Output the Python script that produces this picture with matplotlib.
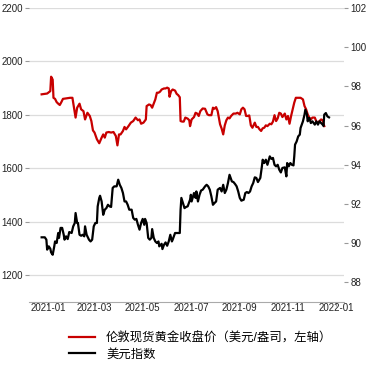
import pandas as pd
import matplotlib
matplotlib.use('Agg')
import matplotlib.pyplot as plt
import matplotlib.dates as mdates
from matplotlib.lines import Line2D

plt.rcParams['font.family'] = ['Liberation Sans', 'Noto Sans CJK SC', 'DejaVu Sans']
plt.rcParams['axes.unicode_minus'] = False

# 伦敦现货黄金收盘价 (美元/盎司)
gold_dates = ['2020-12-24', '2020-12-31', '2021-01-04', '2021-01-05', '2021-01-07', '2021-01-08',
              '2021-01-10', '2021-01-12', '2021-01-14', '2021-01-16', '2021-01-18', '2021-01-20',
              '2021-01-25', '2021-01-29', '2021-02-01', '2021-02-03', '2021-02-05', '2021-02-07',
              '2021-02-10', '2021-02-12', '2021-02-15', '2021-02-17', '2021-02-20', '2021-02-23',
              '2021-02-25', '2021-02-27', '2021-03-01', '2021-03-04', '2021-03-07', '2021-03-10',
              '2021-03-12', '2021-03-14', '2021-03-16', '2021-03-19', '2021-03-22', '2021-03-25',
              '2021-03-28', '2021-03-30', '2021-04-01', '2021-04-03', '2021-04-06', '2021-04-08',
              '2021-04-10', '2021-04-13', '2021-04-16', '2021-04-19', '2021-04-22', '2021-04-25',
              '2021-04-27', '2021-04-29', '2021-05-02', '2021-05-05', '2021-05-06', '2021-05-09',
              '2021-05-11', '2021-05-13', '2021-05-15', '2021-05-17', '2021-05-19', '2021-05-21',
              '2021-05-23', '2021-05-25', '2021-05-28', '2021-05-30', '2021-06-01', '2021-06-03',
              '2021-06-04', '2021-06-06', '2021-06-08', '2021-06-11', '2021-06-13', '2021-06-15',
              '2021-06-17', '2021-06-18', '2021-06-20', '2021-06-22', '2021-06-24', '2021-06-27',
              '2021-06-29', '2021-06-30', '2021-07-02', '2021-07-05', '2021-07-07', '2021-07-09',
              '2021-07-11', '2021-07-13', '2021-07-16', '2021-07-19', '2021-07-22', '2021-07-24',
              '2021-07-27', '2021-07-29', '2021-07-31', '2021-08-02', '2021-08-04', '2021-08-07',
              '2021-08-09', '2021-08-11', '2021-08-13', '2021-08-15', '2021-08-17', '2021-08-19',
              '2021-08-21', '2021-08-24', '2021-08-27', '2021-08-29', '2021-09-01', '2021-09-03',
              '2021-09-05', '2021-09-07', '2021-09-09', '2021-09-11', '2021-09-13', '2021-09-15',
              '2021-09-17', '2021-09-20', '2021-09-22', '2021-09-24', '2021-09-26', '2021-09-28',
              '2021-09-30', '2021-10-02', '2021-10-04', '2021-10-06', '2021-10-09', '2021-10-11',
              '2021-10-13', '2021-10-15', '2021-10-17', '2021-10-19', '2021-10-21', '2021-10-23',
              '2021-10-25', '2021-10-28', '2021-10-30', '2021-11-01', '2021-11-03', '2021-11-05',
              '2021-11-07', '2021-11-09', '2021-11-11', '2021-11-14', '2021-11-17', '2021-11-20',
              '2021-11-22', '2021-11-24', '2021-11-26', '2021-11-28', '2021-11-30', '2021-12-02',
              '2021-12-05', '2021-12-07', '2021-12-09', '2021-12-11', '2021-12-13', '2021-12-15',
              '2021-12-17']
gold_price = [1877, 1880, 1889, 1943, 1932, 1864, 1860, 1848, 1842, 1837, 1848, 1860,
              1862, 1864, 1864, 1827, 1790, 1827, 1842, 1821, 1814, 1783, 1808, 1796,
              1777, 1742, 1734, 1709, 1694, 1715, 1727, 1715, 1734, 1736, 1734, 1736,
              1721, 1686, 1727, 1727, 1740, 1755, 1746, 1758, 1771, 1777, 1790, 1780,
              1783, 1767, 1771, 1783, 1833, 1839, 1837, 1827, 1842, 1858, 1883, 1883,
              1887, 1895, 1899, 1899, 1902, 1899, 1868, 1889, 1895, 1891, 1879, 1874,
              1866, 1777, 1775, 1775, 1790, 1786, 1780, 1758, 1783, 1792, 1808, 1805,
              1796, 1814, 1824, 1823, 1802, 1799, 1799, 1827, 1823, 1829, 1814, 1765,
              1749, 1727, 1761, 1780, 1790, 1787, 1796, 1805, 1805, 1808, 1802, 1821,
              1827, 1821, 1796, 1796, 1798, 1761, 1752, 1771, 1755, 1755, 1746, 1740,
              1750, 1752, 1761, 1758, 1767, 1765, 1775, 1799, 1777, 1787, 1808, 1805,
              1792, 1805, 1783, 1796, 1767, 1796, 1821, 1846, 1864, 1864, 1864, 1858,
              1833, 1821, 1802, 1790, 1783, 1790, 1790, 1775, 1771, 1777, 1783, 1780,
              1758]

# 美元指数
usd_dates = ['2020-12-24', '2020-12-28', '2020-12-30', '2020-12-31', '2021-01-02', '2021-01-04',
             '2021-01-05', '2021-01-07', '2021-01-09', '2021-01-10', '2021-01-12', '2021-01-14',
             '2021-01-15', '2021-01-17', '2021-01-19', '2021-01-21', '2021-01-22', '2021-01-24',
             '2021-01-26', '2021-01-28', '2021-01-31', '2021-02-02', '2021-02-04', '2021-02-05',
             '2021-02-07', '2021-02-08', '2021-02-10', '2021-02-12', '2021-02-14', '2021-02-16',
             '2021-02-17', '2021-02-19', '2021-02-22', '2021-02-24', '2021-02-26', '2021-02-28',
             '2021-03-02', '2021-03-04', '2021-03-05', '2021-03-07', '2021-03-08', '2021-03-10',
             '2021-03-12', '2021-03-14', '2021-03-16', '2021-03-18', '2021-03-20', '2021-03-22',
             '2021-03-24', '2021-03-26', '2021-03-29', '2021-03-31', '2021-04-02', '2021-04-04',
             '2021-04-06', '2021-04-08', '2021-04-10', '2021-04-12', '2021-04-14', '2021-04-17',
             '2021-04-19', '2021-04-21', '2021-04-23', '2021-04-25', '2021-04-27', '2021-04-29',
             '2021-05-01', '2021-05-03', '2021-05-04', '2021-05-06', '2021-05-08', '2021-05-10',
             '2021-05-12', '2021-05-13', '2021-05-15', '2021-05-17', '2021-05-19', '2021-05-21',
             '2021-05-22', '2021-05-25', '2021-05-26', '2021-05-28', '2021-05-30', '2021-06-01',
             '2021-06-03', '2021-06-05', '2021-06-07', '2021-06-08', '2021-06-11', '2021-06-13',
             '2021-06-15', '2021-06-17', '2021-06-18', '2021-06-19', '2021-06-21', '2021-06-23',
             '2021-06-25', '2021-06-27', '2021-06-30', '2021-07-01', '2021-07-02', '2021-07-05',
             '2021-07-07', '2021-07-08', '2021-07-10', '2021-07-12', '2021-07-14', '2021-07-16',
             '2021-07-19', '2021-07-21', '2021-07-23', '2021-07-25', '2021-07-27', '2021-07-29',
             '2021-07-31', '2021-08-02', '2021-08-04', '2021-08-07', '2021-08-09', '2021-08-11',
             '2021-08-13', '2021-08-15', '2021-08-17', '2021-08-19', '2021-08-22', '2021-08-24',
             '2021-08-26', '2021-08-28', '2021-08-30', '2021-09-01', '2021-09-03', '2021-09-06',
             '2021-09-08', '2021-09-10', '2021-09-12', '2021-09-14', '2021-09-16', '2021-09-18',
             '2021-09-20', '2021-09-22', '2021-09-24', '2021-09-27', '2021-09-29', '2021-09-30',
             '2021-10-02', '2021-10-04', '2021-10-06', '2021-10-09', '2021-10-11', '2021-10-13',
             '2021-10-15', '2021-10-17', '2021-10-19', '2021-10-21', '2021-10-23', '2021-10-25',
             '2021-10-28', '2021-10-30', '2021-10-31', '2021-11-02', '2021-11-04', '2021-11-06',
             '2021-11-08', '2021-11-09', '2021-11-10', '2021-11-12', '2021-11-14', '2021-11-16',
             '2021-11-17', '2021-11-20', '2021-11-22', '2021-11-23', '2021-11-25', '2021-11-26',
             '2021-11-28', '2021-11-30', '2021-12-02', '2021-12-05', '2021-12-07', '2021-12-09',
             '2021-12-11', '2021-12-13', '2021-12-15', '2021-12-16', '2021-12-17', '2021-12-19',
             '2021-12-21', '2021-12-23']
usd_index = [90.30, 90.30, 90.18, 89.67, 89.84, 89.72, 89.53, 89.41, 89.84, 90.09, 90.01, 90.52,
             90.27, 90.78, 90.78, 90.43, 90.18, 90.35, 90.21, 90.57, 90.52, 90.86, 91.03, 91.54,
             91.03, 91.03, 90.43, 90.38, 90.43, 90.35, 90.86, 90.43, 90.18, 90.09, 90.18, 90.86,
             91.03, 91.03, 91.88, 92.31, 92.42, 92.13, 91.45, 91.71, 91.79, 91.96, 91.88, 91.85,
             92.82, 92.90, 92.90, 93.24, 92.98, 92.82, 92.56, 92.13, 92.13, 91.96, 91.71, 91.71,
             91.29, 91.20, 91.24, 90.94, 90.69, 91.03, 91.24, 90.94, 91.24, 91.03, 90.27, 90.18,
             90.27, 90.72, 90.27, 90.09, 90.01, 90.09, 89.84, 89.97, 89.70, 89.92, 90.04, 89.87,
             90.09, 90.43, 90.09, 90.18, 90.52, 90.52, 90.52, 90.52, 91.71, 92.31, 92.05, 91.79,
             91.85, 91.88, 92.22, 92.47, 92.13, 92.56, 92.31, 92.64, 92.13, 92.47, 92.69, 92.73,
             92.90, 92.98, 92.90, 92.73, 92.39, 91.96, 92.05, 92.13, 92.73, 92.82, 92.64, 92.98,
             92.56, 92.73, 93.07, 93.49, 93.15, 93.12, 93.02, 92.90, 92.64, 92.31, 92.17, 92.22,
             92.56, 92.61, 92.56, 92.64, 92.90, 93.07, 93.36, 93.33, 93.12, 93.33, 93.92, 94.26,
             94.09, 94.26, 94.00, 94.43, 94.30, 94.35, 94.00, 93.92, 94.00, 93.75, 93.61, 93.84,
             93.87, 93.41, 94.09, 93.92, 94.09, 94.00, 93.97, 94.43, 95.03, 95.19, 95.45, 95.54,
             95.88, 96.22, 96.56, 96.81, 96.59, 96.22, 96.39, 96.13, 96.22, 96.05, 96.22, 96.05,
             96.22, 96.13, 96.05, 95.98, 96.56, 96.64, 96.47, 96.42]

gold_label = '伦敦现货黄金收盘价（美元/盎司，左轴）'
usd_label = '美元指数'

fig = plt.figure(figsize=(3.68, 3.65), dpi=100)
ax = fig.add_axes([29 / 368, 1 - 302 / 365, 315 / 368, 294 / 365])
ax2 = ax.twinx()

ax.plot(pd.to_datetime(gold_dates), gold_price, color='#c80000', lw=1.6)
ax2.plot(pd.to_datetime(usd_dates), usd_index, color='black', lw=1.6)

ax.set_ylim(1100, 2200)
ax.set_yticks([1200, 1400, 1600, 1800, 2000, 2200])
ax2.set_ylim(87, 102)
ax2.set_yticks([88, 90, 92, 94, 96, 98, 100, 102])
ax.set_xlim(pd.Timestamp('2020-12-08'), pd.Timestamp('2022-01-11'))

ax.xaxis.set_major_locator(mdates.MonthLocator(bymonth=[1, 3, 5, 7, 9, 11]))
ax.xaxis.set_major_formatter(mdates.DateFormatter('%Y-%m'))

ax.grid(axis='y', color='#dcdcdc', lw=0.9)
ax.set_axisbelow(True)

for a in (ax, ax2):
    for s in ('top', 'left', 'right', 'bottom'):
        a.spines[s].set_visible(False)
    a.tick_params(labelsize=7, colors='#999999', labelcolor='#222222', length=3, width=0.8, pad=1.5)
ax.spines['bottom'].set_visible(True)
ax.spines['bottom'].set_color('#aaaaaa')
ax.tick_params(axis='x', length=3, pad=-2)

handles = [Line2D([], [], color='#c80000', lw=1.6), Line2D([], [], color='black', lw=1.6)]
fig.legend(handles, [gold_label, usd_label], loc='upper left', bbox_to_anchor=(69 / 368, 1 - 332 / 365),
           frameon=False, fontsize=8.9, borderpad=0, handlelength=2.1, handletextpad=0.9,
           labelspacing=0.35, borderaxespad=0)

fig.savefig('out.png', dpi=100)
